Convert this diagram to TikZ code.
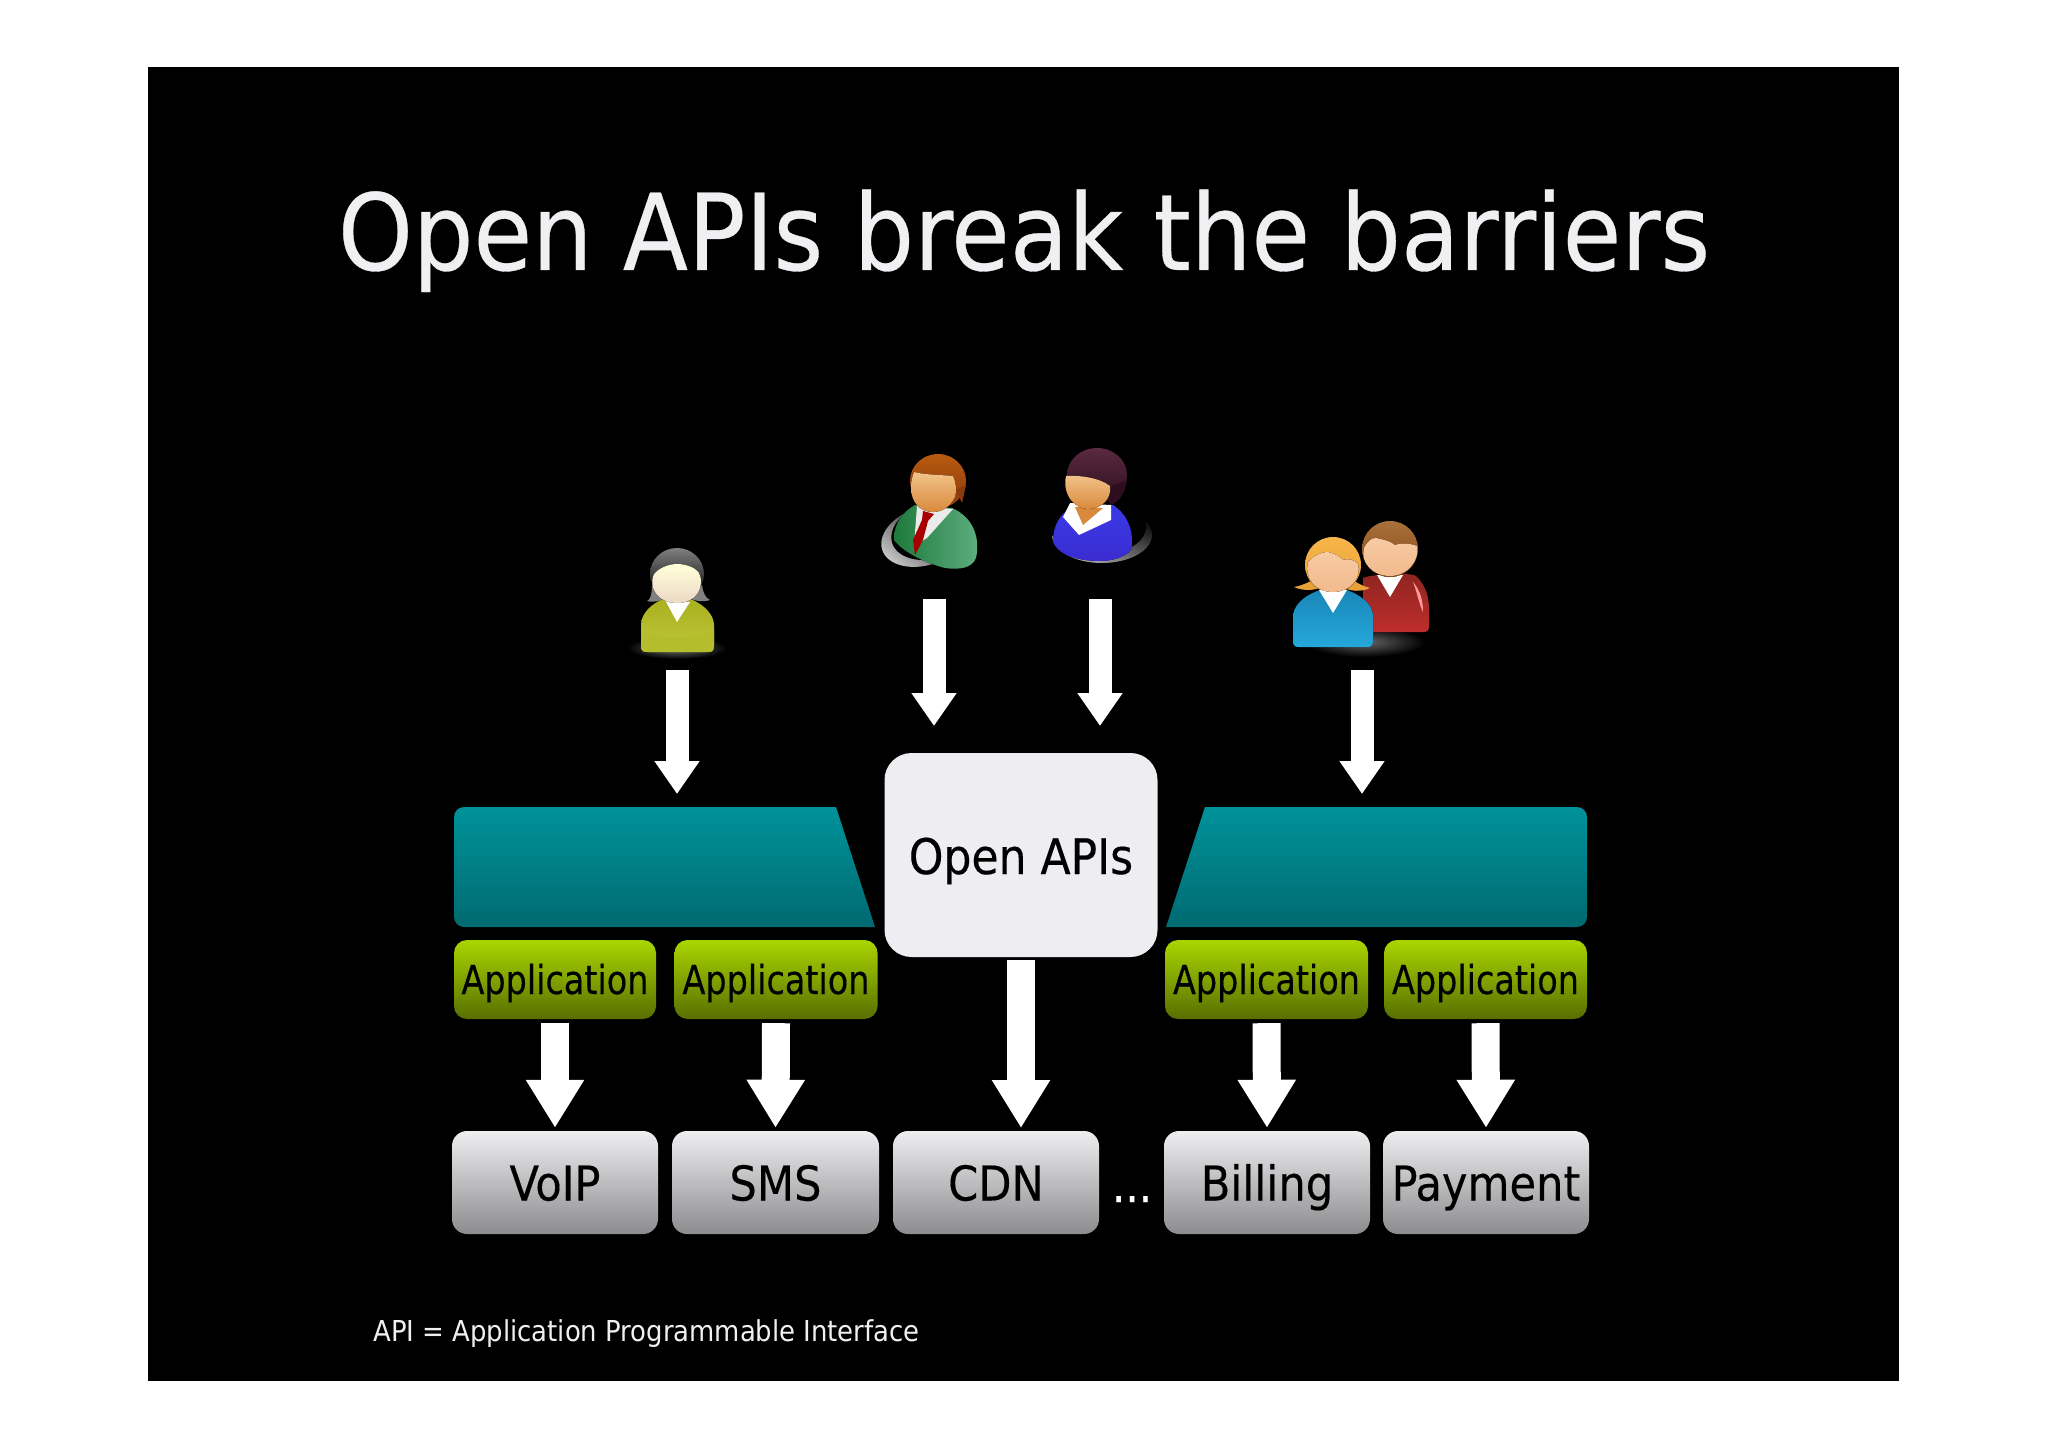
\documentclass[tikz,border=0pt]{standalone}
\usepackage{fontspec}
\setmainfont{DejaVu Sans Condensed}
\newfontfamily\heavyfont[FakeBold=0.3]{DejaVu Sans Condensed}
\newfontfamily\appfont[FakeStretch=0.93,FakeBold=0.3]{DejaVu Sans Condensed}
\usetikzlibrary{arrows.meta,shapes.geometric}
\newcommand{\fsz}[1]{\fontsize{#1}{#1}\selectfont}
\definecolor{tealtop}{HTML}{00929A}
\definecolor{tealbot}{HTML}{006A70}
\definecolor{apptop}{HTML}{A9D600}
\definecolor{appbot}{HTML}{586E00}
\definecolor{svctop}{HTML}{EEEEF0}
\definecolor{svcbot}{HTML}{8C8C8E}
\definecolor{panel}{HTML}{EEEEF2}
\definecolor{titlecol}{HTML}{F0F0F2}
\definecolor{skintop}{HTML}{F2C48A}
\definecolor{skinbot}{HTML}{D9893C}
\definecolor{paletop}{HTML}{F8CBA4}
\definecolor{palebot}{HTML}{F2B98C}
\definecolor{olivetop}{HTML}{A8B020}
\definecolor{olivebot}{HTML}{BFC838}
\definecolor{oliveband}{HTML}{B4BE2C}
\definecolor{greenl}{HTML}{1E7A3C}
\definecolor{greenr}{HTML}{5FAE80}
\definecolor{bluetop}{HTML}{3A3AE8}
\definecolor{bluebot}{HTML}{3A2CD0}
\definecolor{maroontop}{HTML}{5A2A40}
\definecolor{maroonbot}{HTML}{2E0E1E}
\definecolor{hairtop}{HTML}{B85A10}
\definecolor{hairbot}{HTML}{8A3A0C}
\definecolor{redtop}{HTML}{8E2420}
\definecolor{redbot}{HTML}{BE2E2C}
\definecolor{cyantop}{HTML}{1A86B8}
\definecolor{cyanbot}{HTML}{25A8DA}
\definecolor{blond}{HTML}{F6B64A}
\definecolor{blondbot}{HTML}{E8A038}
\definecolor{brownhair}{HTML}{A8703A}
\definecolor{brownbot}{HTML}{8A4A18}
\tikzset{
  panelbox/.style={rectangle,rounded corners=27,fill=panel,minimum width=273pt,minimum height=204pt,inner sep=0pt},
  appbox/.style={rectangle,rounded corners=13,top color=apptop,bottom color=appbot,minimum width=#1,minimum height=79pt,inner sep=0pt},
  svcbox/.style={rectangle,rounded corners=15,top color=svctop,bottom color=svcbot,minimum width=#1,minimum height=103pt,inner sep=0pt},
  panel text/.style={text=black,font=\heavyfont\fsz{49},anchor=base},
  app text/.style={text=black,font=\appfont\fsz{40},anchor=base},
  svc text/.style={text=black,font=\heavyfont\fsz{48},anchor=base},
  upper arrow/.style={draw=white,line width=23pt,-{Triangle[length=33pt,width=43pt,fill=white]}},
  lower arrow/.style={draw=white,line width=28pt,-{Triangle[length=48pt,width=55pt,fill=white]}},
  teal band/.style={top color=tealtop,bottom color=tealbot,draw=none},
}
\begin{document}
\begin{tikzpicture}[x=1pt,y=-1pt]
\useasboundingbox (0,0) rectangle (2048,1447);
\fill[white] (0,0) rectangle (2048,1447);
\fill[black] (148,67) rectangle (1899,1380.5);

\node[text=titlecol,font=\heavyfont\fsz{106},anchor=base] (title) at (1024,270) {Open APIs break the barriers};
\node[text=titlecol,font=\fsz{28.8},anchor=base west] (foot) at (370,1341) {API = Application Programmable Interface};

\begin{scope}[yshift=-1pt]
% bands
\fill[teal band] (836,806) -- (875,926) [rounded corners=10] -- (454,926) -- (454,806) [sharp corners] -- cycle;
\fill[teal band] (1205,806) -- (1166,926) [rounded corners=10] -- (1587,926) -- (1587,806) [sharp corners] -- cycle;

% boxes
\node[panelbox] (open) at (1021,854) {};
\node[panel text] (opent) at (1021,873) {Open APIs};
\node[appbox=202pt] (a1) at (555,978.5) {};
\node[appbox=203pt] (a2) at (776,978.5) {};
\node[appbox=203pt] (a3) at (1266.5,978.5) {};
\node[appbox=203pt] (a4) at (1485.5,978.5) {};
\node[app text] (a1t) at (555,993) {Application};
\node[app text] (a2t) at (776,993) {Application};
\node[app text] (a3t) at (1266.5,993) {Application};
\node[app text] (a4t) at (1485.5,993) {Application};
\node[svcbox=206pt] (voip) at (555,1181.5) {};
\node[svcbox=207pt] (sms) at (775.5,1181.5) {};
\node[svcbox=206pt] (cdn) at (996,1181.5) {};
\node[svcbox=206pt] (bill) at (1267,1181.5) {};
\node[svcbox=206pt] (pay) at (1486,1181.5) {};
\node[svc text] (voipt) at (555,1199.5) {VoIP};
\node[svc text] (smst) at (775.5,1199.5) {SMS};
\node[svc text] (cdnt) at (996,1199.5) {CDN};
\node[svc text] (billt) at (1267,1199.5) {Billing};
\node[svc text] (payt) at (1486,1199.5) {Payment};
\node[text=white,font=\heavyfont\fsz{47},anchor=base] (dots) at (1132,1201) {...};

% upper arrow starts and ends
\coordinate (u1) at (677,669);
\coordinate (u2) at (934,598);
\coordinate (u3) at (1100,598);
\coordinate (u4) at (1362,669);
\coordinate (t1) at (677,793);
\coordinate (t2) at (934,725);
\coordinate (t3) at (1100,725);
\coordinate (t4) at (1362,793);
\draw[upper arrow] (u1) -- (t1);
\draw[upper arrow] (u2) -- (t2);
\draw[upper arrow] (u3) -- (t3);
\draw[upper arrow] (u4) -- (t4);

\draw[lower arrow] ([yshift=-4pt]a1.south) -- ([yshift=3pt]voip.north);
\draw[lower arrow] ([yshift=-4pt]a2.south) -- ([yshift=3pt]sms.north);
\draw[lower arrow] ([yshift=-3pt]open.south) -- (1021,1127);
\draw[lower arrow] ([yshift=-4pt]a3.south) -- ([yshift=3pt]bill.north);
\draw[lower arrow] ([yshift=-4pt]a4.south) -- ([yshift=3pt]pay.north);
\end{scope}

% person 1 (olive)
\fill[inner color=black!55!white,outer color=black] (677,648) ellipse [x radius=50,y radius=11];
\fill[black!50!white] (652,585) .. controls (652,595) and (650,600) .. (647,601) .. controls (655,603) and (665,600) .. (668,596) -- (686,596) .. controls (690,600) and (702,603) .. (710,600) .. controls (705,598) and (703,592) .. (702,585) -- cycle;
\fill[top color=black!50!white,bottom color=black] (677,574) ellipse [x radius=27,y radius=26];
\fill[top color=olivetop,bottom color=olivebot] (641,645) -- (641,624) .. controls (642,612) and (652,604) .. (663,599) -- (693,600) .. controls (705,606) and (713,614) .. (714,624) -- (714,645) .. controls (714,651) and (712,652) .. (708,652) -- (647,652) .. controls (643,652) and (641,651) .. (641,645) -- cycle;
\fill[oliveband] (641,630) .. controls (655,640) and (700,640) .. (714,630) -- (714,645) .. controls (714,651) and (712,652) .. (708,652) -- (647,652) .. controls (643,652) and (641,651) .. (641,645) -- cycle;
\fill[white] (665,600) -- (690,602) -- (677,622) -- cycle;
\fill[top color=white!85!yellow,bottom color=brown!30!white] (654,574) .. controls (660,567) and (670,564) .. (677,564) .. controls (685,564) and (695,567) .. (699,573) .. controls (705,585) and (698,603) .. (677,603) .. controls (658,603) and (648,588) .. (654,574) -- cycle;

% person 2 (green)
\fill[shading=axis,top color=black,bottom color=black!22!white,shading angle=-40,rotate around={18:(925,536)}] (925,536) ellipse [x radius=45,y radius=29];
\fill[black,rotate around={18:(936,529)}] (936,529) ellipse [x radius=46,y radius=29];
\fill[left color=greenl,right color=greenr] (915,505) .. controls (903,512) and (894,522) .. (894,540) .. controls (903,552) and (925,563) .. (945,568) .. controls (960,570) and (972,568) .. (976,558) .. controls (980,540) and (975,518) .. (952,508) -- cycle;
\fill[white!92!black] (917,506) -- (953,509) -- (927,538) -- (914,546) -- cycle;
\fill[red!65!black] (923,511) -- (934,514) -- (928,521) -- (923,540) -- (915,555) -- (913,540) -- (922,520) -- cycle;
\fill[top color=hairtop,bottom color=hairbot] (938,481) ellipse [x radius=28,y radius=27];
\fill[hairbot] (955,490) -- (966,485) -- (962,503) -- (956,491) -- cycle;
\fill[top color=skintop,bottom color=skinbot] (911,488) .. controls (911,480) and (913,475) .. (914,472) .. controls (925,475) and (945,475) .. (953,476) .. controls (956,483) and (957,490) .. (955,497) .. controls (950,507) and (942,512) .. (933,512) .. controls (920,512) and (911,502) .. (911,488) -- cycle;

% person 3 (blue)
\fill[shading=axis,top color=black,bottom color=black!30!white,shading angle=-25] (1102,535) ellipse [x radius=50,y radius=28];
\fill[black] (1098,527) ellipse [x radius=48,y radius=28];
\fill[top color=bluetop,bottom color=bluebot] (1070,508) .. controls (1060,515) and (1053,525) .. (1053,542) .. controls (1060,558) and (1085,561) .. (1100,561) .. controls (1115,561) and (1130,555) .. (1132,547) .. controls (1133,530) and (1128,515) .. (1113,505) -- cycle;
\fill[white] (1070,503) -- (1063,517) -- (1079,535) -- (1111,520) -- (1111,505) -- cycle;
\fill[skinbot] (1075,507) -- (1103,508) -- (1083,525) -- cycle;
\fill[top color=maroontop,bottom color=maroonbot] (1097,475) ellipse [x radius=30,y radius=27];
\fill[maroonbot] (1100,490) -- (1127,480) .. controls (1125,495) and (1118,502) .. (1111,505) -- cycle;
\fill[top color=skintop,bottom color=skinbot] (1066,476) .. controls (1080,475) and (1100,478) .. (1110,486) .. controls (1112,500) and (1100,509) .. (1088,509) .. controls (1075,509) and (1062,495) .. (1066,476) -- cycle;

% person 4 (pair)
\fill[inner color=black!60!white,outer color=black] (1365,642) ellipse [x radius=60,y radius=15];
\fill[top color=redtop,bottom color=redbot] (1363,578) .. controls (1372,574) and (1410,572) .. (1416,576) .. controls (1425,585) and (1429,595) .. (1429,610) -- (1429,626) .. controls (1429,631) and (1427,632) .. (1423,632) -- (1363,632) -- cycle;
\fill[white!60!red] (1413,582) .. controls (1420,590) and (1423,600) .. (1423,612) .. controls (1419,604) and (1417,592) .. (1413,582) -- cycle;
\fill[white] (1377,575) -- (1403,575) -- (1390,597) -- cycle;
\fill[top color=brownhair,bottom color=brownbot] (1390,549) ellipse [x radius=28,y radius=28];
\fill[top color=paletop,bottom color=palebot] (1364,548) .. controls (1368,540) and (1372,538) .. (1376,538) .. controls (1385,540) and (1390,541) .. (1395,545) .. controls (1400,543) and (1410,543) .. (1417,546) .. controls (1420,560) and (1408,576) .. (1390,576) .. controls (1372,576) and (1360,562) .. (1364,548) -- cycle;
\fill[blondbot] (1322,573) .. controls (1314,580) and (1305,585) .. (1294,587) .. controls (1305,592) and (1316,590) .. (1325,586) -- (1340,586) .. controls (1350,592) and (1362,592) .. (1370,588) .. controls (1358,585) and (1350,578) .. (1344,573) -- cycle;
\fill[top color=blond,bottom color=blondbot] (1333,565) ellipse [x radius=28,y radius=28];
\fill[top color=cyantop,bottom color=cyanbot] (1293,640) -- (1293,615) .. controls (1295,602) and (1308,594) .. (1320,590) -- (1347,590) .. controls (1360,595) and (1372,603) .. (1373,615) -- (1373,640) .. controls (1373,646) and (1371,647) .. (1367,647) -- (1299,647) .. controls (1295,647) and (1293,646) .. (1293,640) -- cycle;
\fill[white] (1319,590) -- (1347,590) -- (1333,613) -- cycle;
\fill[top color=paletop,bottom color=palebot] (1308,562) .. controls (1314,556) and (1320,552) .. (1328,552) .. controls (1335,554) and (1340,556) .. (1343,560) .. controls (1348,558) and (1355,560) .. (1358,564) .. controls (1362,578) and (1350,592) .. (1333,592) .. controls (1315,592) and (1304,578) .. (1308,562) -- cycle;
\end{tikzpicture}
\end{document}
